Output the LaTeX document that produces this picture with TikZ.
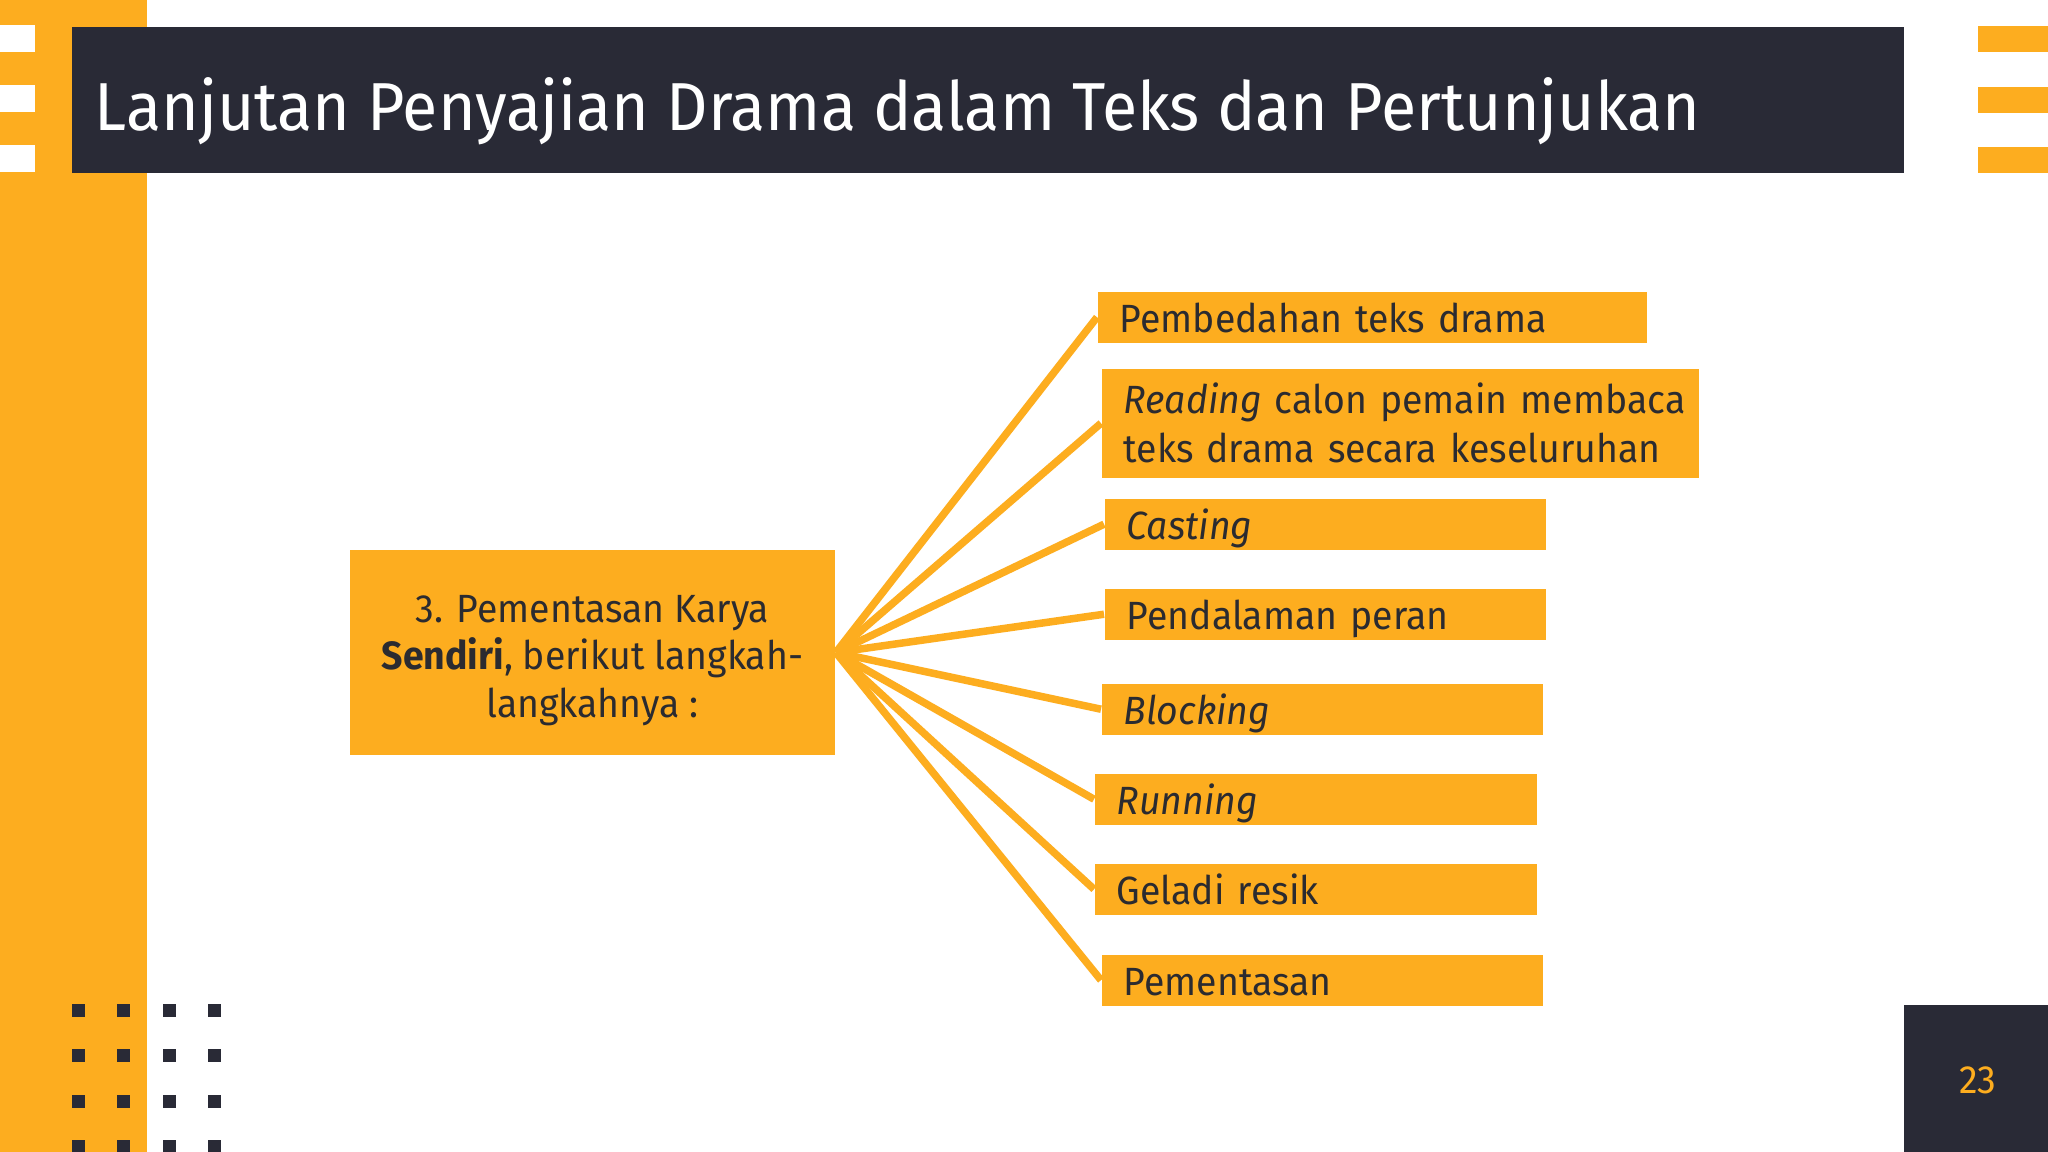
\documentclass[tikz,border=0pt]{standalone}
\usepackage{fontspec}
\setmainfont[FakeStretch=0.95]{Fira Sans}
\definecolor{slideorange}{HTML}{FDAD1F}
\definecolor{slidedark}{HTML}{292A36}
\definecolor{inkdark}{HTML}{2B2B30}

\begin{document}
\begin{tikzpicture}[x=0.01cm,y=-0.01cm]

% Define styles
\tikzstyle{band}=[fill=slideorange]
\tikzstyle{panel}=[fill=slidedark]
\tikzstyle{link}=[draw=slideorange, line width=0.075cm]
\tikzstyle{boxfont}=[text=inkdark, font=\fontsize{11.2}{13.9}\selectfont]
\tikzstyle{stepbox}=[boxfont, fill=slideorange, anchor=north west, inner xsep=0.22cm, inner ysep=0pt, minimum height=0.51cm, align=left]
\tikzstyle{mainbox}=[boxfont, fill=slideorange, minimum width=4.85cm, minimum height=2.05cm, align=center, font=\fontsize{11.2}{13.5}\selectfont]

% Parameters
\def\dotsize{13}
\def\dotgap{45.3}

% Page and background
\useasboundingbox (0,0) rectangle (2048,1152);
\fill[white] (0,0) rectangle (2048,1152);

% Left band with white bars
\fill[band] (0,0) rectangle (147,1152);
\foreach \y in {25,85,145} {
  \fill[white] (0,\y) rectangle (35,\y+27);
}

% Right bars
\foreach \y in {26,87,147} {
  \fill[band] (1978,\y) rectangle (2048,\y+26);
}

% Title bar
\fill[panel] (72,27) rectangle (1904,173);
\node[anchor=base west, inner sep=0pt, text=white, font=\fontsize{19.3}{24}\selectfont] (title) at (94,131) {Lanjutan Penyajian Drama dalam Teks dan Pertunjukan};

% Dot grid
\foreach \c in {0,...,3} {
  \foreach \r in {0,...,3} {
    \fill[panel] (72+\dotgap*\c,1004+\dotgap*\r) rectangle ++(\dotsize,\dotsize);
  }
}

% Page number
\fill[panel] (1904,1005) rectangle (2048,1152);
\node[text=slideorange, font=\fontsize{11.2}{13.9}\selectfont] (page) at (1978,1080) {23};

% Main box
\node[mainbox, text height=1.37cm, text depth=0.08cm] (main) at (592.5,652.5) {3. Pementasan Karya\\\textbf{Sendiri}, berikut langkah-\\langkahnya :};

% Steps
\node[stepbox, text width=5.05cm, text height=0.31cm, text depth=0pt] (s1) at (1097,291) {Pembedahan teks drama};
\node[stepbox, text width=5.53cm, minimum height=1.09cm] (s2) at (1101,368) {\mbox{\textit{Reading} calon pemain membaca}\\\mbox{teks drama secara keseluruhan}};
\foreach \n/\x/\y/\w/\txt in {3/1104/498/3.97/\textit{Casting}, 4/1104/588/3.97/Pendalaman peran, 5/1101/683/3.97/\textit{Blocking}, 6/1094/773/3.98/\textit{Running}, 7/1094/863/3.98/Geladi resik, 8/1101/954/3.97/Pementasan} {
  \node[stepbox, text width=\w cm, text height=0.31cm, text depth=0pt] (s\n) at (\x,\y) {\txt};
}

% Links
\foreach \n in {1,...,8} {
  \draw[link] (main.east) -- (s\n.west);
}

\end{tikzpicture}
\end{document}
